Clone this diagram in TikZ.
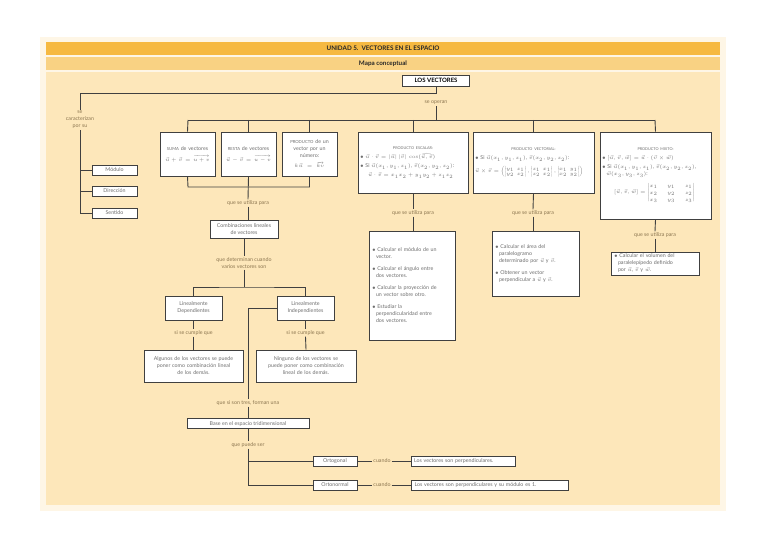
\documentclass[tikz,border=0pt]{standalone}
\usepackage{amsmath}
\usepackage[no-math]{fontspec}
\setmainfont{Lato}
\definecolor{barA}{HTML}{F6B941}
\definecolor{barB}{HTML}{F9D283}
\definecolor{bodyc}{HTML}{FDE7BA}
\definecolor{outer}{HTML}{FEF6E6}
\definecolor{txt}{HTML}{6E6E6E}
\definecolor{lab}{HTML}{8C7650}
\newcommand{\fs}{\fontsize{5.3}{7}\selectfont\hyphenpenalty=10000\exhyphenpenalty=10000}
\newcommand{\vv}[1]{\overrightarrow{#1}}
\tikzset{
  box/.style={draw=black!75, line width=0.9pt, fill=white, text=txt, font=\fs, inner sep=2pt, align=center},
  lbl/.style={text=lab, font=\fs, align=center, inner sep=1pt},
  con/.style={draw=black!75, line width=0.9pt},
}
\begin{document}
\begin{tikzpicture}[x=1pt,y=-1pt]
\useasboundingbox (0,0) rectangle (768,540);
\fill[white] (0,0) rectangle (768,540);
\fill[outer] (40,37) rectangle (726,511);
\fill[barA] (46,42) rectangle (720,55);
\fill[barB] (46,57) rectangle (720,70);
\fill[bodyc] (46,72) rectangle (720,505);
\node[font=\fontsize{6.3}{7}\selectfont\bfseries, text=black!85] (t1) at (383,48.5) {UNIDAD 5.\ \ VECTORES EN EL ESPACIO};
\node[font=\fontsize{6.3}{7}\selectfont\bfseries, text=black!85] (t2) at (383,63.5) {Mapa conceptual};

% root
\node[box, font=\fontsize{6}{6}\selectfont\bfseries, text=black, minimum width=67pt, minimum height=11pt, inner sep=1pt] (lv) at (436,80.5) {LOS VECTORES};
\node[lbl] (car) at (80,120) {se\\caracterizan\\por su};
\node[lbl] (so) at (436,103) {se operan};
\coordinate (j1) at (436,93);
\draw[con] (lv.south) -- (j1) -| (car.north);

% characteristics
\node[box, minimum width=45pt, minimum height=10pt, inner sep=0pt] (mod) at (114.5,170) {Módulo};
\node[box, minimum width=45pt, minimum height=10pt, inner sep=0pt] (dir) at (114.5,191) {Dirección};
\node[box, minimum width=45pt, minimum height=10pt, inner sep=0pt] (sen) at (114.5,213) {Sentido};
\coordinate (cb) at (80,213);
\draw[con] (car.south) -- (cb) -- (sen.west);
\draw[con] (car.south |- mod.west) -- (mod.west);
\draw[con] (car.south |- dir.west) -- (dir.west);

% operations
\node[box, minimum width=55pt, minimum height=44pt, text width=53pt, inner sep=1pt] (suma) at (187.5,154) {{\fontsize{4.2}{5}\selectfont SUMA} de vectores\\[4pt] $\vec u + \vec v = \vv{u+v}$};
\node[box, minimum width=55pt, minimum height=44pt, text width=53pt, inner sep=1pt] (resta) at (248.5,154) {{\fontsize{4.2}{5}\selectfont RESTA} de vectores\\[4pt] $\vec u - \vec v = \vv{u-v}$};
\node[box, minimum width=55pt, minimum height=44pt, text width=53pt, inner sep=1pt] (prod) at (309.5,154) {{\fontsize{4.2}{5}\selectfont PRODUCTO} de un\\vector por un\\número:\\[3pt] $k\vec u = \vv{kv}$};
\node[box, minimum width=110pt, minimum height=61pt, text width=106pt, align=left, inner sep=1pt] (esc) at (413,162.5) {\centerline{\fontsize{3.8}{5}\selectfont PRODUCTO ESCALAR:}\\[2pt]
$\bullet$ $\vec u\cdot\vec v = |\vec u|\,|\vec v|\,\cos(\widehat{\vec u,\vec v})$\\[2pt]
$\bullet$ Si $\vec u(x_1,y_1,z_1)$, $\vec v(x_2,y_2,z_2)$:\\[2pt]
\hspace*{8pt}$\vec u\cdot\vec v = x_1x_2+y_1y_2+z_1z_2$};
\node[box, minimum width=121pt, minimum height=61pt, text width=117pt, align=left, inner sep=1pt] (vec) at (533.5,162.5) {\centerline{\fontsize{3.8}{5}\selectfont PRODUCTO VECTORIAL:}\\[2pt]
$\bullet$ Si $\vec u(x_1,y_1,z_1)$, $\vec v(x_2,y_2,z_2)$:\\[4pt]
{\fontsize{4.4}{5}\selectfont\setlength\arraycolsep{1.5pt}\mbox{$\vec u\times\vec v=\left(\begin{vmatrix}y_1&z_1\\y_2&z_2\end{vmatrix},\begin{vmatrix}z_1&x_1\\z_2&x_2\end{vmatrix},\begin{vmatrix}x_1&y_1\\x_2&y_2\end{vmatrix}\right)$}}};
\node[box, minimum width=111pt, minimum height=87pt, text width=107pt, align=left, inner sep=1pt] (mix) at (655.5,175.5) {\centerline{\fontsize{3.8}{5}\selectfont PRODUCTO MIXTO:}\\[2pt]
$\bullet$ $[\vec u,\vec v,\vec w]=\vec u\cdot(\vec v\times\vec w)$\\[2pt]
$\bullet$ Si $\vec u(x_1,y_1,z_1)$, $\vec v(x_2,y_2,z_2)$,\\
\hspace*{4pt}$\vec w(x_3,y_3,z_3)$:\\[4pt]
\hspace*{12pt}\mbox{$[\vec u,\vec v,\vec w]=\begin{vmatrix}x_1&y_1&z_1\\x_2&y_2&z_2\\x_3&y_3&z_3\end{vmatrix}$}};
\coordinate (hl) at (188,120);
\coordinate (hr) at (655,120);
\draw[con] (so.south) -- (436,120);
\draw[con] (hl) -- (hr);
\draw[con] (hl) -- (suma.north);
\draw[con] (resta.north |- hl) -- (resta.north);
\draw[con] (prod.north |- hl) -- (prod.north);
\draw[con] (esc.north |- hl) -- (esc.north);
\draw[con] (vec.north |- hl) -- (vec.north);
\draw[con] (hr) -- (mix.north);

% below operations
\node[lbl] (u1) at (248,203) {que se utiliza para};
\draw[con] (suma.south) -- (188,187) -| (prod.south);
\draw[con] (resta.south) -- (u1.north);
\node[box, minimum width=68pt, minimum height=18pt, inner sep=0pt] (comb) at (244,229) {Combinaciones lineales\\de vectores};
\draw[con] (u1.south) -- (u1.south |- comb.north);
\node[lbl] (det) at (244,263) {que determinan cuando\\varios vectores son};
\draw[con] (comb.south) -- (det.north);
\node[box, minimum width=57pt, minimum height=24pt] (dep) at (193.5,308) {Linealmente\\Dependientes};
\node[box, minimum width=57pt, minimum height=24pt] (ind) at (305.5,308) {Linealmente\\Independientes};
\draw[con] (det.south) -- (244,287);
\draw[con] (dep.north) |- (244,287) -| (ind.north);
\node[lbl] (c1) at (193.5,333) {si se cumple que};
\node[lbl] (c2) at (305.5,333) {si se cumple que};
\draw[con] (dep.south) -- (c1.north);
\draw[con] (ind.south) -- (c2.north);
\node[box, minimum width=99pt, minimum height=32pt, text width=97pt, inner sep=1pt] (alg) at (193.5,366) {Algunos de los vectores se puede\\poner como combinación lineal\\de los demás.};
\node[box, minimum width=100pt, minimum height=32pt, text width=96pt] (nin) at (306,366) {Ninguno de los vectores se\\puede poner como combinación\\lineal de los demás.};
\draw[con] (c1.south) -- (alg.north);
\draw[con] (c2.south) -- (nin.north);

\node[lbl] (tres) at (248,403) {que si son tres, forman una};
\draw[con] (ind.west) -- (248,308) -- (tres.north);
\node[box, minimum width=122pt, minimum height=10pt, inner sep=0pt] (base) at (248,423.5) {Base en el espacio tridimensional};
\draw[con] (tres.south) -- (base.north);
\node[lbl] (ps) at (248,445) {que puede ser};
\draw[con] (base.south) -- (ps.north);
\node[box, minimum width=44pt, minimum height=10pt, inner sep=0pt] (ort) at (335,461) {Ortogonal};
\node[box, minimum width=44pt, minimum height=10pt, inner sep=0pt] (orn) at (335,485) {Ortonormal};
\draw[con] (ps.south) |- (orn.west);
\draw[con] (248,461) -- (ort.west);
\node[lbl] (cu1) at (382,461) {cuando};
\node[lbl] (cu2) at (382,485) {cuando};
\node[box, minimum width=104pt, minimum height=10pt, text width=98pt, align=left, inner sep=0pt] (p1) at (463,461) {Los vectores son perpendiculares.};
\node[box, minimum width=157pt, minimum height=10pt, text width=151pt, align=left, inner sep=0pt] (p2) at (490,485) {Los vectores son perpendiculares y su módulo es 1.};
\draw[con] (ort.east) -- (cu1.west);
\draw[con] (cu1.east) -- (p1.west);
\draw[con] (orn.east) -- (cu2.west);
\draw[con] (cu2.east) -- (p2.west);

% uses
\node[lbl] (u2) at (413,213) {que se utiliza para};
\node[lbl] (u3) at (533,213) {que se utiliza para};
\node[lbl] (u4) at (655,235) {que se utiliza para};
\draw[con] (esc.south) -- (u2.north);
\draw[con] (vec.south) -- (u3.north);
\draw[con] (mix.south) -- (u4.north);
\node[box, minimum width=86pt, minimum height=109pt, text width=80pt, align=left] (ue) at (412,285.5) {$\bullet$ Calcular el módulo de un\\\hspace*{4pt}vector.\\[5pt]
$\bullet$ Calcular el ángulo entre\\\hspace*{4pt}dos vectores.\\[5pt]
$\bullet$ Calcular la proyección de\\\hspace*{4pt}un vector sobre otro.\\[5pt]
$\bullet$ Estudiar la\\\hspace*{4pt}perpendicularidad entre\\\hspace*{4pt}dos vectores.};
\node[box, minimum width=87pt, minimum height=65pt, text width=81pt, align=left] (uv) at (535.5,263.5) {$\bullet$ Calcular el área del\\\hspace*{4pt}paralelogramo\\\hspace*{4pt}determinado por $\vec u$ y $\vec v$.\\[5pt]
$\bullet$ Obtener un vector\\\hspace*{4pt}perpendicular a $\vec u$ y $\vec v$.};
\node[box, minimum width=88pt, minimum height=23pt, text width=82pt, align=left] (um) at (655,263.5) {$\bullet$ Calcular el volumen del\\\hspace*{4pt}paralelepípedo definido\\\hspace*{4pt}por $\vec u$, $\vec v$ y $\vec w$.};
\draw[con] (u2.south) -- (u2.south |- ue.north);
\draw[con] (u3.south) -- (u3.south |- uv.north);
\draw[con] (u4.south) -- (u4.south |- um.north);
\end{tikzpicture}
\end{document}
